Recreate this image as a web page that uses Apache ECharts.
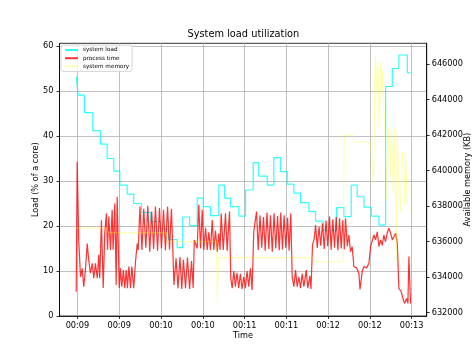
<!DOCTYPE html>
<html>
<head>
<meta charset="utf-8">
<script src="https://cdn.jsdelivr.net/npm/echarts@6/dist/echarts.min.js"></script>
<style>
html,body{margin:0;padding:0;background:#fff;}
#chart{width:474px;height:355px;}
</style>
</head>
<body>
<div id="chart"></div>
<script>
// ---- data (time in seconds from first tick) ----
const timeTickSeconds = [0, 30, 60, 90, 120, 150, 180, 210, 240];
const timeTickLabels = ['00:09', '00:09', '00:10', '00:10', '00:11', '00:11', '00:12', '00:12', '00:13'];
const loadTicks = [0, 10, 20, 30, 40, 50, 60];
const memoryTicks = [632000, 634000, 636000, 638000, 640000, 642000, 644000, 646000];

// system load: step levels (time the level starts, value)
const loadTimes = [-0.9, 0.5, 5.0, 11.0, 16.5, 21.3, 26.1, 30.4, 35.7, 40.4, 46.0, 52.5, 59.6, 65.4, 71.6, 75.6, 80.5, 86.0, 90.3, 95.5, 101.5, 105.6, 109.9, 115.9, 120.7, 126.2, 130.2, 136.3, 141.0, 145.8, 150.6, 155.4, 160.2, 166.2, 171.0, 176.5, 186.1, 191.3, 196.6, 200.9, 205.7, 211.0, 216.5, 221.3, 226.1, 230.8, 236.9, 239.0];
const loadValues = [53.2, 49.1, 45.2, 41.2, 38.2, 35.0, 32.2, 29.1, 27.1, 25.0, 23.0, 21.0, 19.3, 17.0, 15.2, 22.0, 20.1, 26.2, 24.3, 22.3, 29.1, 26.2, 24.3, 22.2, 28.0, 34.1, 31.1, 29.1, 35.2, 32.1, 29.3, 27.3, 25.2, 23.2, 21.1, 19.1, 24.1, 22.1, 29.1, 26.5, 24.2, 22.2, 20.2, 51.0, 55.0, 58.0, 54.1, 54.1];

// process time
const procTimes = [-0.9, -0.2, 0.9, 2.2, 3.4, 4.5, 5.7, 7.0, 8.1, 9.3, 10.6, 11.7, 12.9, 14.2, 15.3, 16.0, 17.2, 18.5, 19.6, 20.8, 21.6, 22.5, 23.7, 24.9, 25.6, 26.8, 27.8, 28.5, 30.0, 30.9, 31.8, 33.0, 34.0, 35.0, 35.9, 36.9, 38.1, 39.0, 40.4, 41.7, 42.9, 43.6,
  44.9, 46.3, 47.6, 49.1, 50.5, 51.9, 53.3, 54.7, 56.0, 57.5, 58.9, 60.3, 61.8, 63.2, 64.7, 66.1, 67.5,
  69.3, 70.8, 72.2, 73.6, 74.9, 76.1, 77.6, 79.0, 80.5, 81.9, 83.1,
  83.9, 86.0, 87.1, 88.4, 89.6, 90.7, 92.0, 93.2, 94.3, 95.5, 96.8, 97.9, 99.1, 100.4, 101.5, 102.4, 103.2, 104.7, 106.3, 107.5, 109.2, 110.1,
  111.1, 112.3, 113.4, 114.6, 115.8, 117.0, 118.2, 119.4, 120.6, 121.8, 123.0, 124.2, 125.4,
  126.6, 128.6, 129.8, 131.1, 132.3, 133.6, 134.8, 136.1, 137.4, 138.6, 139.9, 141.2, 142.4, 143.7, 144.9, 146.0, 147.2, 148.4, 149.6, 150.9, 152.0, 153.2,
  154.2, 155.4, 156.6, 157.8, 159.0, 160.2, 161.4, 162.6, 164.3, 165.4, 166.9, 167.7, 168.8, 169.9,
  171.0, 172.2, 173.5, 174.7, 176.0, 177.2, 178.5, 179.7, 181.0, 182.2, 183.4, 184.6, 185.8, 187.0, 188.2, 189.4, 190.6, 191.6, 192.5,
  193.8, 194.9, 196.1, 197.3, 198.5, 200.4, 202.1, 202.9, 204.5, 205.7, 207.6, 209.3, 210.5, 211.7, 212.9, 214.1, 215.3, 216.5, 217.7, 218.9, 220.0, 221.2, 222.4, 223.6, 224.9, 226.1, 227.2, 228.5, 229.7, 230.8, 232.5, 234.0, 234.9, 236.4, 237.3, 238.0, 239.2];
const procValues = [5.4, 34.3, 16.9, 8.7, 10.6, 6.5, 10.2, 16.1, 12.4, 9.5, 11.7, 8.4, 11.7, 8.4, 13.6, 8.4, 21.3, 6.2, 18.4, 22.8, 14.7, 22.1, 14.7, 23.6, 14.7, 25.0, 6.9, 26.5, 6.2, 10.6, 6.5, 10.2, 6.2, 10.2, 6.2, 11.0, 6.2, 11.0, 6.2, 12.1, 16.1, 14.7,
  24.3, 14.7, 23.8, 15.2, 24.5, 14.3, 23.2, 14.9, 24.3, 14.5, 24.0, 15.0, 23.6, 14.6, 24.3, 14.8, 23.8,
  6.9, 12.8, 6.2, 13.1, 6.0, 12.5, 6.2, 13.0, 6.0, 12.2, 6.2,
  16.9, 15.0, 24.7, 15.0, 23.6, 14.7, 19.6, 14.7, 18.6, 14.7, 21.3, 14.7, 19.0, 14.3, 18.4, 14.7, 22.8, 14.7, 22.8, 14.5, 23.2, 8.4,
  6.2, 10.0, 6.5, 9.6, 6.2, 9.4, 6.0, 8.7, 6.2, 10.0, 6.5, 10.6, 5.8,
  18.7, 23.2, 14.7, 22.4, 15.2, 22.0, 14.5, 23.0, 14.9, 22.4, 14.3, 22.8, 15.0, 22.2, 14.6, 23.0, 14.8, 22.4, 15.2, 21.8, 14.5, 22.8,
  8.7, 6.5, 10.2, 6.5, 8.7, 6.2, 9.4, 6.5, 10.2, 6.2, 8.9, 6.0, 15.8, 17.0,
  20.2, 15.1, 19.8, 15.6, 20.6, 14.9, 21.2, 15.5, 22.1, 14.7, 21.5, 15.2, 22.0, 14.6, 21.7, 15.0, 21.3, 14.8, 21.7,
  15.5, 18.0, 14.3, 15.4, 11.0, 10.7, 9.5, 5.9, 9.9, 11.0, 10.7, 11.7, 15.4, 15.7, 18.0, 16.9, 18.7, 15.4, 16.9, 15.7, 18.0, 16.5, 18.4, 19.5, 18.4, 16.9, 17.6, 18.4, 16.1, 6.2, 5.4, 3.6, 2.8, 3.9, 2.8, 13.2, 2.8];

// system memory (KB)
const memTimes = [-0.9, 21.0, 21.6, 64.0, 64.6, 100.0, 100.4, 101.2, 169.0, 169.6, 190.9, 191.5, 198.0, 198.6, 208.0, 210.5, 212.6, 213.9, 215.0, 215.7, 216.7, 217.7, 218.6, 219.1, 221.3, 222.0, 223.1, 224.4, 225.4, 226.8, 227.7, 229.2, 229.7, 230.8, 232.0, 233.3, 234.4, 235.1, 235.6, 236.9];
const memValues = [636760, 636760, 636510, 636510, 636000, 636000, 632530, 635100, 635100, 634870, 634870, 642010, 642010, 641630, 641630, 641540, 639300, 646520, 644450, 645950, 642390, 646140, 644270, 645670, 641070, 638350, 642390, 639570, 642200, 638630, 642390, 634860, 642200, 639010, 637690, 641070, 639950, 638070, 641070, 638070];

const zip = (a, b) => a.map((t, i) => [t, b[i]]);
const FONT = 'DejaVu Sans';
const HIDDEN = 'rgba(0,0,0,0)';
const chart = echarts.init(document.getElementById('chart'), null, {renderer: 'canvas'});
chart.setOption({
  animation: false,
  backgroundColor: '#fff',
  title: {
    text: 'System load utilization',
    left: 243.4, top: 29.5, padding: 0, textAlign: 'center',
    textStyle: {fontFamily: FONT, fontSize: 9.8, fontWeight: 'normal', color: '#000'}
  },
  legend: {
    orient: 'vertical', left: 61, top: 45,
    padding: [2, 3, 2, 3], itemWidth: 13, itemHeight: 6, itemGap: 2.2,
    backgroundColor: 'rgba(255,255,255,0.8)', borderColor: '#cccccc', borderWidth: 0.8, borderRadius: 2,
    textStyle: {fontFamily: FONT, fontSize: 5.7, color: '#000'},
    data: ['system load', 'process time', 'system memory']
  },
  grid: {left: 59.5, right: 47.3, top: 43.3, bottom: 39, containLabel: false, outerBoundsMode: 'none',
    show: true, borderColor: '#000', borderWidth: 0.8, backgroundColor: 'transparent'},
  xAxis: {
    type: 'value', min: -12.9, max: 250.8,
    name: 'Time', nameLocation: 'middle', nameGap: 16, nameMoveOverlap: false,
    nameTextStyle: {fontFamily: FONT, fontSize: 8.2, color: '#000'},
    axisLine: {show: true, onZero: false, lineStyle: {color: '#000', width: 0.8}},
    axisTick: {show: true, customValues: timeTickSeconds, length: 3, lineStyle: {color: '#000', width: 0.8}},
    axisLabel: {customValues: timeTickSeconds, margin: 6, fontFamily: FONT, fontSize: 8.2, color: '#000',
      formatter: v => { const i = timeTickSeconds.indexOf(v); return i >= 0 ? timeTickLabels[i] : ''; }},
    splitLine: {show: true, lineStyle: {color: '#b0b0b0', width: 0.8}}
  },
  yAxis: [{
    type: 'value', min: 0, max: 60.6, interval: 10, position: 'left',
    name: 'Load (% of a core)', nameLocation: 'middle', nameGap: 20, nameRotate: 90, nameMoveOverlap: false,
    nameTextStyle: {fontFamily: FONT, fontSize: 8.2, color: '#000'},
    axisLine: {show: true, onZero: false, lineStyle: {color: '#000', width: 0.8}},
    axisTick: {show: true, customValues: loadTicks, length: 3, lineStyle: {color: '#000', width: 0.8}},
    axisLabel: {customValues: loadTicks, margin: 6, fontFamily: FONT, fontSize: 8.2, color: '#000', formatter: v => String(v)},
    splitLine: {show: true, lineStyle: {color: '#b0b0b0', width: 0.8}}
  }, {
    type: 'value', min: 631814, max: 647178, position: 'right',
    name: 'Available memory (KB)', nameLocation: 'middle', nameGap: 37, nameRotate: 90, nameMoveOverlap: false,
    nameTextStyle: {fontFamily: FONT, fontSize: 8.2, color: '#000'},
    axisLine: {show: true, onZero: false, lineStyle: {color: '#000', width: 0.8}},
    axisTick: {show: true, customValues: memoryTicks, length: 3, lineStyle: {color: '#000', width: 0.8}},
    axisLabel: {customValues: memoryTicks, margin: 5, fontFamily: FONT, fontSize: 8.2, color: '#000', formatter: v => String(v)},
    splitLine: {show: false}
  }],
  series: [{
    name: 'system load', type: 'line', step: 'end', yAxisIndex: 0,
    data: zip(loadTimes, loadValues), symbol: 'none',
    lineStyle: {color: 'rgba(0,255,255,0.8)', width: 1.2}, itemStyle: {color: HIDDEN}
  }, {
    name: 'process time', type: 'line', yAxisIndex: 0,
    data: zip(procTimes, procValues), symbol: 'none',
    lineStyle: {color: 'rgba(255,0,0,0.8)', width: 1.2}, itemStyle: {color: HIDDEN}
  }, {
    name: 'system memory', type: 'line', yAxisIndex: 1,
    data: zip(memTimes, memValues), symbol: 'none',
    lineStyle: {color: 'rgba(255,255,0,0.3)', width: 1.2}, itemStyle: {color: HIDDEN}
  }]
});
</script>
</body>
</html>
